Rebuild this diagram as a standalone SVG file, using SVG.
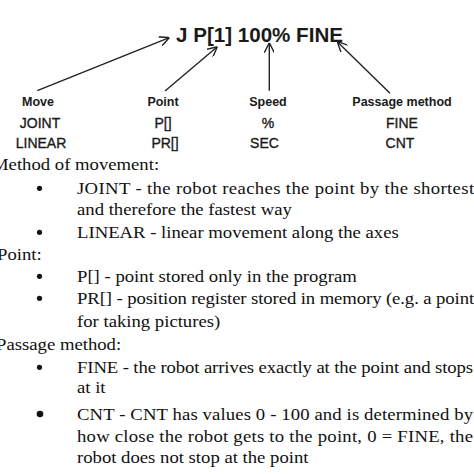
<svg xmlns="http://www.w3.org/2000/svg" width="474" height="474" viewBox="0 0 474 474">
<style>
.title{font-family:"Liberation Sans",Arial,sans-serif;font-weight:bold;font-size:20.5px;fill:#1a1a1a}
.lab{font-family:"Liberation Sans",Arial,sans-serif;font-weight:bold;font-size:12.5px;fill:#1a1a1a;text-anchor:middle}
.val{font-family:"Liberation Sans",Arial,sans-serif;font-size:14px;fill:#1a1a1a;stroke:#1a1a1a;stroke-width:0.35;text-anchor:middle}
.body{font-family:"Liberation Serif","Times New Roman",serif;font-size:17px;fill:#111}
.conn{stroke:#222;stroke-width:1.4;fill:none}
.bul{fill:#111}
</style>
<defs>
<marker id="ah" viewBox="0 0 10 10" refX="10" refY="5" markerWidth="10" markerHeight="10" markerUnits="userSpaceOnUse" orient="auto">
<path d="M0,0 L10,5 L0,10" fill="none" stroke="#222" stroke-width="1.4"/>
</marker>
</defs>
<rect width="474" height="474" fill="#fff"/>
<g id="title"><text class="title" x="176" y="41.5" textLength="167" lengthAdjust="spacingAndGlyphs">J P[1] 100% FINE</text></g>
<g id="connectors">
<line class="conn" x1="37.3" y1="90.7" x2="169.3" y2="37.7" marker-end="url(#ah)"/>
<line class="conn" x1="165" y1="91" x2="217.3" y2="46.7" marker-end="url(#ah)"/>
<line class="conn" x1="269.3" y1="90.7" x2="269.3" y2="42.7" marker-end="url(#ah)"/>
<line class="conn" x1="390" y1="93.3" x2="337.3" y2="41.7" marker-end="url(#ah)"/>
</g>
<g id="move">
<text class="lab" x="38" y="105.7">Move</text>
<text class="val" x="40" y="127.7">JOINT</text>
<text class="val" x="41" y="147.7">LINEAR</text>
</g>
<g id="point">
<text class="lab" x="163" y="105.7">Point</text>
<text class="val" x="163" y="127.7">P[]</text>
<text class="val" x="165" y="147.7">PR[]</text>
</g>
<g id="speed">
<text class="lab" x="268" y="105.7">Speed</text>
<text class="val" x="268" y="127.7">%</text>
<text class="val" x="264.5" y="147.7">SEC</text>
</g>
<g id="passage">
<text class="lab" x="402" y="105.7">Passage method</text>
<text class="val" x="402" y="127.7">FINE</text>
<text class="val" x="400" y="147.7">CNT</text>
</g>
<g id="bullets">
<circle class="bul" cx="39.5" cy="188.3" r="2.6"/>
<circle class="bul" cx="39.5" cy="232.3" r="2.6"/>
<circle class="bul" cx="39.5" cy="276.3" r="2.6"/>
<circle class="bul" cx="39.5" cy="298.3" r="2.6"/>
<circle class="bul" cx="39.5" cy="367.3" r="2.6"/>
<circle class="bul" cx="40" cy="414" r="3.3"/>
</g>
<g id="notes" transform="scale(1.1 1)">
<text class="body" x="-7.3" y="170.5">Method of movement:</text>
<text class="body" x="70" y="194" textLength="361" lengthAdjust="spacing">JOINT - the robot reaches the point by the shortest</text>
<text class="body" x="70" y="215.5">and therefore the fastest way</text>
<text class="body" x="70" y="238">LINEAR - linear movement along the axes</text>
<text class="body" x="-2.7" y="260.5">Point:</text>
<text class="body" x="70" y="282">P[] - point stored only in the program</text>
<text class="body" x="70" y="304" textLength="361" lengthAdjust="spacing">PR[] - position register stored in memory (e.g. a point</text>
<text class="body" x="70" y="327">for taking pictures)</text>
<text class="body" x="-3.6" y="350">Passage method:</text>
<text class="body" x="70" y="373" textLength="360" lengthAdjust="spacing">FINE - the robot arrives exactly at the point and stops</text>
<text class="body" x="70" y="393.5">at it</text>
<text class="body" x="70" y="420" textLength="360" lengthAdjust="spacing">CNT - CNT has values 0 - 100 and is determined by</text>
<text class="body" x="70" y="441.7" textLength="360" lengthAdjust="spacing">how close the robot gets to the point, 0 = FINE, the</text>
<text class="body" x="70" y="463">robot does not stop at the point</text>
</g>
</svg>
